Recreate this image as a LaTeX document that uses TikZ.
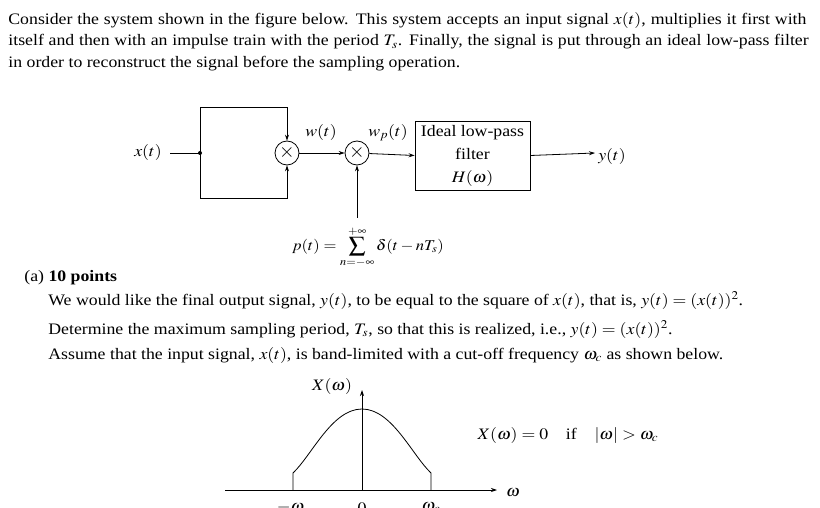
\documentclass[tikz,border=0pt]{standalone}
\usepackage{mathptmx}
\usepackage{fontspec}
\setmainfont{Liberation Serif}
\usetikzlibrary{arrows.meta}
\newcommand\hs[1]{\scalebox{1.11}[1]{#1}}
\begin{document}
\begin{tikzpicture}[x=1pt,y=-1pt,
  txt/.style={anchor=base west,inner sep=0,font=\fontsize{16}{19}\selectfont},
  lbl/.style={inner sep=0,font=\fontsize{16}{19}\selectfont},
  mult/.style={draw,circle,minimum size=24pt,inner sep=0,font=\fontsize{20}{20}\selectfont},
  ar/.style={-{Stealth[length=6pt,width=4pt]}},
  line width=0.8pt]
\useasboundingbox (0,0) rectangle (820,508);
\clip (0,0) rectangle (820,508);
\fill[white] (0,0) rectangle (820,508);
\node[txt] (l1) at (8,25) {\hs{\makebox[719pt][s]{Consider the system shown in the figure below. This system accepts an input signal $x(t)$, multiplies it first with}}};
\node[txt] (l2) at (8,46) {\hs{\makebox[721pt][s]{itself and then with an impulse train with the period $T_s$. Finally, the signal is put through an ideal low-pass filter}}};
\node[txt] (l3) at (8,68) {\hs{in order to reconstruct the signal before the sampling operation.}};
% block diagram
\node[lbl] (x) at (148,153) {\hs{$x(t)$}};
\coordinate (j) at (200,153);
\fill (j) circle (2pt);
\node[mult] (m1) at (287,153) {$\times$};
\node[mult] (m2) at (357,153) {$\times$};
\node[draw,minimum width=115pt,minimum height=69pt,align=center,inner sep=0,font=\fontsize{16}{23}\selectfont] (f) at (472.5,155.5) {\hs{Ideal low-pass}\\\hs{filter}\\\hs{$H(\omega)$}};
\node[lbl] (y) at (612,157) {\hs{$y(t)$}};
\draw (x.east)++(8,0) -- (j);
\draw[ar] (j) |- (287,107) -- (m1.north);
\draw[ar] (j) |- (287,198) -- (m1.south);
\draw[ar] (m1) -- (m2);
\draw[ar] (m2) -- (f.west);
\draw[ar] (f.east) -- (595,153);
\coordinate (p) at (357,218);
\draw[ar] (p) -- (m2.south);
\node[lbl] (w) at (321,133) {\hs{$w(t)$}};
\node[lbl] (wp) at (388,133) {\hs{$w_p(t)$}};
\node[lbl,font=\fontsize{15}{18}\selectfont] (pt) at (368,247) {\hs{$p(t)=\displaystyle\sum_{n=-\infty}^{+\infty}\delta(t-nT_s)$}};
% part a
\node[txt] (a) at (24,281) {\hs{(a) \textbf{10 points}}};
\node[txt] (a1) at (48,305) {\hs{We would like the final output signal, $y(t)$, to be equal to the square of $x(t)$, that is, $y(t)=(x(t))^2$.}};
\node[txt] (a2) at (48,334) {\hs{Determine the maximum sampling period, $T_s$, so that this is realized, i.e., $y(t)=(x(t))^2$.}};
\node[txt] (a3) at (48,359) {\hs{Assume that the input signal, $x(t)$, is band-limited with a cut-off frequency $\omega_c$ as shown below.}};
% graph
\coordinate (o) at (362,490);
\draw[ar] (225,490) -- (497,490);
\draw[ar] (o) -- (362,390);
\node[lbl] (om) at (513,493) {\hs{$\omega$}};
\node[lbl] (X) at (332,386) {\hs{$X(\omega)$}};
\draw (293,490) -- (293,473) .. controls (312,455) and (332,409) .. (362,409) .. controls (392,409) and (412,455) .. (431,473) -- (431,490);
\node[lbl] (cond) at (568,435) {\hs{$X(\omega)=0\quad\mbox{if}\quad|\omega|>\omega_c$}};
\node[lbl,anchor=north] (lm) at (293,502) {\hs{$-\omega_c$}};
\node[lbl,anchor=north] (l0) at (362,502) {\hs{$0$}};
\node[lbl,anchor=north] (lp) at (431,502) {\hs{$\omega_c$}};
\end{tikzpicture}
\end{document}
